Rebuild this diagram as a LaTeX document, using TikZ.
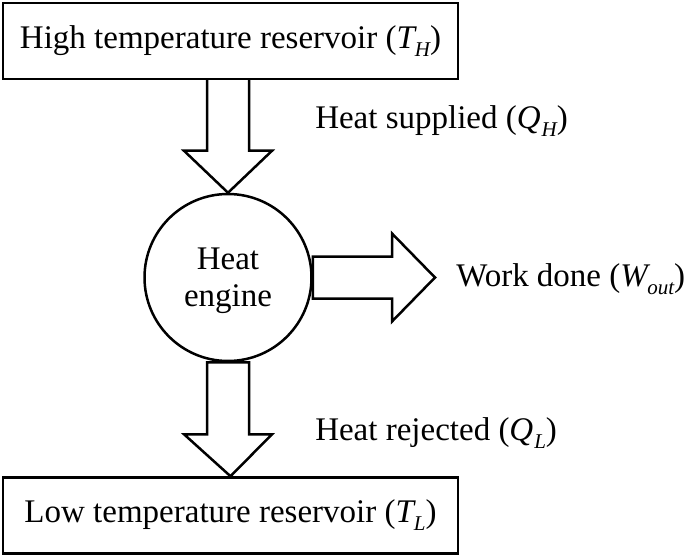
\documentclass[tikz,border=0pt]{standalone}
\usepackage{fontspec}
\setmainfont{Liberation Serif}
\usetikzlibrary{calc}

% italic subscript, optional kern back under the letter before it
\newcommand{\sbs}[2][0pt]{\kern#1\raisebox{-8pt}{\fontsize{21}{21}\selectfont\itshape #2}}

\tikzset{
  reservoir/.style={draw, rectangle, minimum width=455pt, minimum height=76pt, inner sep=0pt},
  engine node/.style={draw, circle, minimum size=167pt, inner sep=0pt, align=center, text depth=0pt},
  side text/.style={anchor=west, inner sep=0pt},
  fat arrow/.style={draw, fill=white, line join=miter},
}

\begin{document}
\begin{tikzpicture}[x=1pt, y=1pt, line width=2.5pt, font=\fontsize{33}{37}\selectfont]
	\useasboundingbox (0,0) rectangle (685,558);
	\node[reservoir] (hot) at (230.5,517) {High temperature reservoir (\textit{T}\sbs[-2pt]{H})};
	\node[engine node] (engine) at (228,280.5) {Heat\\engine};
	\node[reservoir] (cold) at (230.5,42.5) {Low temperature reservoir (\textit{T}\sbs[-2pt]{L})};
	\coordinate (work tip) at (435,280.5);
	% block arrows
	\draw[fat arrow] let \p1=(engine.north), \p2=(hot.south) in
		(\x1-21,\y2) -- (\x1-21,\y1+42) -- (\x1-44,\y1+42) -- (\p1) -- (\x1+44,\y1+42) -- (\x1+21,\y1+42) -- (\x1+21,\y2);
	\draw[fat arrow] let \p1=(engine.east), \p2=(work tip) in
		(\x1,\y1+21) -- (\x2-43,\y1+21) -- (\x2-43,\y1+44) -- (\p2) -- (\x2-43,\y1-44) -- (\x2-43,\y1-21) -- (\x1,\y1-21) -- cycle;
	\draw[fat arrow] let \p1=(engine.south), \p2=(cold.north) in
		(\x1-21,\y1) -- (\x1-21,\y2+42) -- (\x1-44,\y2+42) -- (\p2) -- (\x1+44,\y2+42) -- (\x1+21,\y2+42) -- (\x1+21,\y1) -- cycle;
	% labels
	\node[side text] (supplied) at (314,437) {Heat supplied (\textit{Q}\sbs[1pt]{H})};
	\node[side text] (work) at (455,279) {Work done (\textit{W}\sbs[-3pt]{out})};
	\node[side text] (rejected) at (314,125) {Heat rejected (\textit{Q}\sbs[1pt]{L})};
\end{tikzpicture}
\end{document}
